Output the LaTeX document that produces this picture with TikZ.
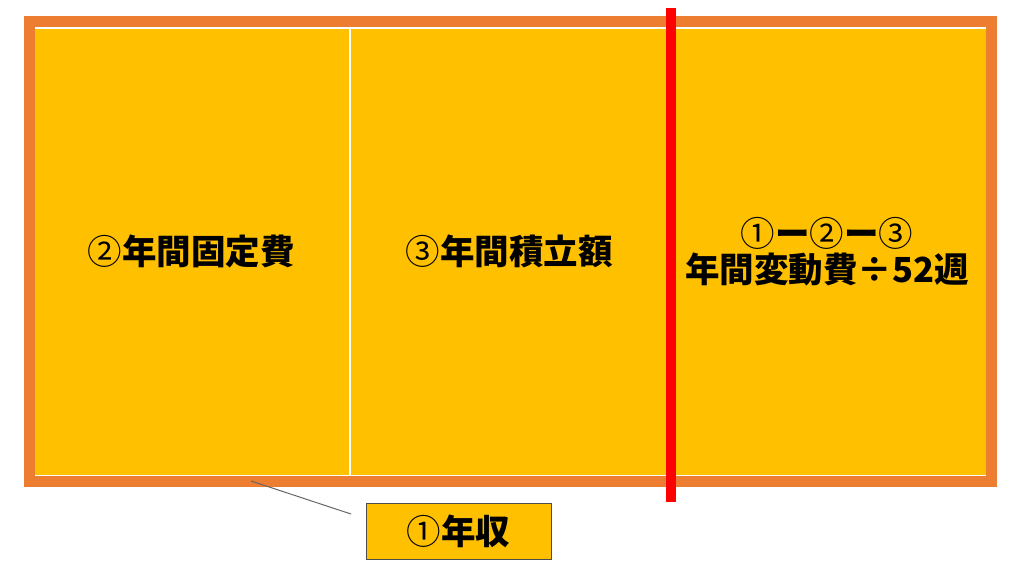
\documentclass[tikz,border=0pt]{standalone}
\usepackage{fontspec}
\newfontfamily\jpfont{Noto Sans CJK JP}
\newcommand{\maru}[1]{{\mdseries#1}}
\definecolor{kiiro}{HTML}{FFC000}
\definecolor{daidai}{HTML}{ED7D31}
\begin{document}
\begin{tikzpicture}[x=1pt,y=-1pt,
	block/.style={fill=kiiro,draw=white,line width=1pt,minimum height=447pt,inner sep=0pt,
		font=\jpfont\bfseries\fontsize{34.5}{36}\selectfont,align=center},
	labelbox/.style={fill=kiiro,draw=black!70,line width=1pt,minimum width=185pt,minimum height=56pt,
		inner sep=0pt,font=\jpfont\bfseries\fontsize{34.5}{36}\selectfont}]
		
		\useasboundingbox (0,0) rectangle (1024,576);
		
		% three parts of the year
		\node[block,minimum width=316pt] (kotei) at (191,251.5) {\maru{②}年間固定費};
		\node[block,minimum width=318pt] (tsumitate) at (509,251.5) {\maru{③}年間積立額};
		\node[block,minimum width=318pt] (hendo) at (827,251.5) {\maru{①}ー\maru{②}ー\maru{③}\\年間変動費÷52週};
		
		% frame and cut
		\draw[daidai,line width=11pt] (29,21.5) rectangle (991.5,481);
		\draw[red,line width=10pt] (671,8) -- (671,502);
		
		\node[labelbox] (nenshu) at (458.5,531) {\maru{①}年収};
		\coordinate (waku) at (251,481);
		\coordinate (hashi) at (351,514);
		\draw[black!60,line width=1pt] (waku) -- (hashi);
		
		\end{tikzpicture}
\end{document}
